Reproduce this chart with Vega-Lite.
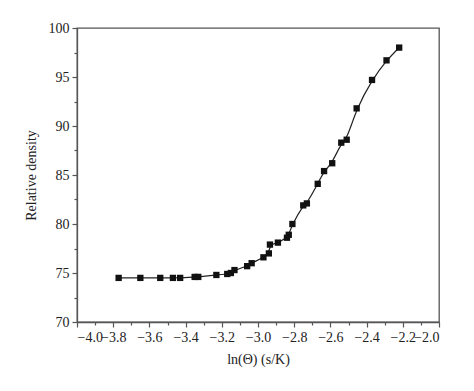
{
  "$schema": "https://vega.github.io/schema/vega-lite/v6.json",
  "width": 362,
  "height": 294,
  "autosize": "none",
  "padding": {"left": 77, "top": 28, "right": 35, "bottom": 69},
  "background": "white",
  "config": {
    "view": {"stroke": "#555", "strokeWidth": 1.3},
    "font": "Liberation Serif",
    "axis": {
      "domainColor": "#555",
      "domainWidth": 1.3,
      "tickColor": "#555",
      "tickWidth": 1.2,
      "grid": false,
      "labelFont": "Liberation Serif",
      "labelFontSize": 14,
      "labelColor": "#222",
      "titleFont": "Liberation Serif",
      "titleFontSize": 14,
      "titleFontWeight": "normal",
      "titleColor": "#222",
      "labelOverlap": false,
      "labelPadding": 3
    }
  },
  "data": {
    "values": [
      {"lnTheta": -3.77, "density": 74.5},
      {"lnTheta": -3.65, "density": 74.5},
      {"lnTheta": -3.54, "density": 74.5},
      {"lnTheta": -3.47, "density": 74.5},
      {"lnTheta": -3.43, "density": 74.5},
      {"lnTheta": -3.35, "density": 74.6},
      {"lnTheta": -3.33, "density": 74.6},
      {"lnTheta": -3.23, "density": 74.8},
      {"lnTheta": -3.17, "density": 74.9},
      {"lnTheta": -3.15, "density": 75.0},
      {"lnTheta": -3.13, "density": 75.3},
      {"lnTheta": -3.06, "density": 75.7},
      {"lnTheta": -3.035, "density": 76.0},
      {"lnTheta": -2.97, "density": 76.6},
      {"lnTheta": -2.94, "density": 77.0},
      {"lnTheta": -2.934, "density": 77.9},
      {"lnTheta": -2.89, "density": 78.1},
      {"lnTheta": -2.84, "density": 78.6},
      {"lnTheta": -2.83, "density": 78.9},
      {"lnTheta": -2.81, "density": 80.0},
      {"lnTheta": -2.75, "density": 81.9},
      {"lnTheta": -2.73, "density": 82.1},
      {"lnTheta": -2.67, "density": 84.1},
      {"lnTheta": -2.635, "density": 85.4},
      {"lnTheta": -2.59, "density": 86.2},
      {"lnTheta": -2.54, "density": 88.3},
      {"lnTheta": -2.51, "density": 88.6},
      {"lnTheta": -2.455, "density": 91.8},
      {"lnTheta": -2.37, "density": 94.7},
      {"lnTheta": -2.29, "density": 96.7},
      {"lnTheta": -2.22, "density": 98.0}
    ]
  },
  "encoding": {
    "x": {
      "field": "lnTheta",
      "type": "quantitative",
      "scale": {"domain": [-4.0, -2.0], "nice": false, "zero": false},
      "axis": {
        "title": "ln(Θ) (s/K)",
        "titlePadding": 8,
        "values": [-4.0, -3.9, -3.8, -3.7, -3.6, -3.5, -3.4, -3.3, -3.2, -3.1, -3.0, -2.9, -2.8, -2.7, -2.6, -2.5, -2.4, -2.3, -2.2, -2.1, -2.0],
        "labelExpr": "abs(round(datum.value*10))%2==0 ? format(datum.value, '.1f') : ''",
        "tickSize": {"condition": {"test": "abs(round(datum.value*10))%2==0", "value": 5}, "value": 3}
      }
    },
    "y": {
      "field": "density",
      "type": "quantitative",
      "scale": {"domain": [70, 100], "nice": false, "zero": false},
      "axis": {
        "title": "Relative density",
        "titlePadding": 10,
        "values": [70, 72.5, 75, 77.5, 80, 82.5, 85, 87.5, 90, 92.5, 95, 97.5, 100],
        "labelExpr": "datum.value%5==0 ? format(datum.value, 'd') : ''",
        "tickSize": {"condition": {"test": "datum.value%5==0", "value": 5}, "value": 3}
      }
    }
  },
  "layer": [
    {"mark": {"type": "line", "interpolate": "basis", "color": "#222", "strokeWidth": 1.2}},
    {"mark": {"type": "square", "size": 40, "color": "#111", "filled": true, "opacity": 1}}
  ]
}
